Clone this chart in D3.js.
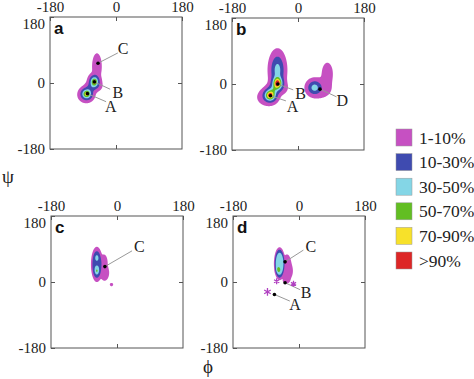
<!DOCTYPE html>
<html>
<head>
<meta charset="utf-8">
<script src="https://cdn.jsdelivr.net/npm/d3@7"></script>
<style>
  body { margin: 0; background: #fff; }
  text { font-family: "Liberation Serif", "Times New Roman", serif; }
</style>
</head>
<body>
<svg id="chart"></svg>
<script>
const svg = d3.select('#chart')

// dimensions
const width = 474;
const height = 379;
svg.attr('width', width).attr('height', height)

// data
const panelNames = ['a', 'b', 'c', 'd'];
const axisTicks = [-180, 0, 180];
const levelNames = ['1-10%', '10-30%', '30-50%', '50-70%', '70-90%', '>90%'];
const levelThresholds = [0.01, 0.1, 0.3, 0.5, 0.7, 0.9];
const levelColors = ['#c650c2', '#3f4bb0', '#84d6e6', '#62be22', '#f7e12a', '#dd2626'];

// density peaks:
// [phi, psi, spread phi, spread psi, height, edge sharpness]
const blobsA = [
  [-80, -30, 8, 8, 0.82, 2],
  [-59, 3, 7, 9, 0.8, 2],
  [-69, -13, 8, 8, 0.14, 2],
  [-52, 45, 7, 19, 0.06, 2],
  [-84, -34, 12, 11, 0.03, 2],
  [-50, -8, 8, 8, 0.03, 2]
];
const blobsB = [
  [-76, -31, 9, 9, 1.0, 2],
  [-56, 2, 8, 10, 1.0, 2],
  [-66, -15, 9, 9, 0.3, 2],
  [-56, 38, 10, 22, 0.4, 2],
  [-86, -36, 14, 12, 0.05, 2],
  [-45, -10, 10, 10, 0.04, 2],
  [45, -10, 10, 10, 0.4, 2],
  [62, -12, 17, 15, 0.04, 2],
  [80, 28, 9, 18, 0.04, 2]
];
const blobsC = [
  [-55, 48, 10, 30, 0.27, 4],
  [-55, 68, 4, 6, 0.13, 2],
  [-55, 30, 4, 7, 0.28, 2],
  [-34, 25, 7, 12, 0.05, 2],
  [-36, 55, 6, 12, 0.04, 2],
  [-15, -7, 2.5, 2.5, 0.05, 2]
];
const blobsD = [
  [-53, 50, 11, 32, 0.42, 6],
  [-56, 33, 4, 6, 0.18, 2],
  [-30, 30, 8, 14, 0.04, 2],
  [-33, 55, 6, 12, 0.04, 2],
  [-35, 5, 6, 6, 0.03, 2]
];

// labels: [name, dot phi, dot psi, line end phi, line end psi, text phi, text psi]
const labelsA = [
  ['C', -49, 54, 5, 82, 19, 95],
  ['B', -59, 3, -16, -17, 5, -25],
  ['A', -78, -29, -27, -51, -14, -65]
];
const labelsB = [
  ['A', -75, -32, -33, -46, -15, -61],
  ['B', -55, 0, -13, -16, 7, -26],
  ['D', 60, -14, 105, -35, 121, -44]
];
const labelsC = [
  ['C', -33, 42, 41, 85, 61, 98]
];
const labelsD = [
  ['C', -38, 55, 12, 87, 32, 96],
  ['B', -38, -2, 3, -21, 19, -29],
  ['A', -67, -34, -25, -52, -11, -61]
];
const starsD = [[-86, -27], [-61, 2], [-15, -5]];

const panelData = {
  a: {blobs: blobsA, labels: labelsA, stars: []},
  b: {blobs: blobsB, labels: labelsB, stars: []},
  c: {blobs: blobsC, labels: labelsC, stars: []},
  d: {blobs: blobsD, labels: labelsD, stars: starsD}
};

// panel boxes
const boxSize = 132;
const boxes = {
  a: {x: 50, y: 17},
  b: {x: 232, y: 18},
  c: {x: 51, y: 216},
  d: {x: 233, y: 216}
};

const x_scale = d3.scaleLinear().domain([-180, 180]).range([0, boxSize])
const y_scale = d3.scaleLinear().domain([-180, 180]).range([boxSize, 0])

// grid for contouring, 1 degree step
const n = 361;
function density(blobs) {
  const values = new Float64Array(n * n);
  for (let j = 0; j < n; j++) {
    const psi = 180 - j;
    for (let i = 0; i < n; i++) {
      const phi = -180 + i;
      let v = 0;
      blobs.forEach(b => {
        const dx = (phi - b[0]) / b[2];
        const dy = (psi - b[1]) / b[3];
        const r2 = dx * dx + dy * dy;
        v += b[4] * Math.exp(-0.5 * Math.pow(r2, b[5] / 2));
      })
      values[i + j * n] = v;
    }
  }
  return values;
}

const gridPath = d3.geoPath(d3.geoTransform({
  point: function(gx, gy) {
    this.stream.point(x_scale(-180 + gx - 0.5), y_scale(180 - gy + 0.5));
  }
}));

panelNames.forEach(name => {
  const box = boxes[name];
  const pd = panelData[name];
  const g = svg.append('g').attr('transform', `translate(${box.x},${box.y})`)

  g.append('clipPath').attr('id', 'clip-' + name)
    .append('rect').attr('width', boxSize).attr('height', boxSize)

  const contours = d3.contours().size([n, n]).thresholds(levelThresholds)(density(pd.blobs))

  g.append('g').attr('clip-path', `url(#clip-${name})`)
    .selectAll('path')
    .data(contours)
    .enter()
    .append('path')
    .attr('d', gridPath)
    .attr('fill', (d, i) => levelColors[i])

  // frame
  g.append('rect')
    .attr('width', boxSize).attr('height', boxSize)
    .attr('fill', 'none').attr('stroke', '#555').attr('stroke-width', 1)

  // axes
  const top = g.append('g').call(d3.axisTop(x_scale).tickValues(axisTicks).tickSize(-4).tickPadding(5).tickFormat(d => String(d)))
  const left = g.append('g').call(d3.axisLeft(y_scale).tickValues(axisTicks).tickSize(-4).tickPadding(5).tickFormat(d => String(d)))
  g.append('g').attr('transform', `translate(0,${boxSize})`)
    .call(d3.axisBottom(x_scale).tickValues([0]).tickSize(-4).tickFormat(''))
  g.append('g').attr('transform', `translate(${boxSize},0)`)
    .call(d3.axisRight(y_scale).tickValues([0]).tickSize(-4).tickFormat(''))

  g.selectAll('.domain').remove()
  g.selectAll('.tick line').attr('stroke', '#555')
  g.selectAll('.tick text')
    .attr('font-family', null)
    .style('font-family', '"Liberation Serif", "Times New Roman", serif')
    .style('font-size', '15px')
    .attr('fill', '#222')
  left.selectAll('.tick text').filter(d => d === 180).attr('dy', '0.75em')

  // panel letter
  g.append('text')
    .attr('x', 4).attr('y', 17)
    .style('font-family', '"Liberation Sans", Arial, sans-serif')
    .style('font-weight', 'bold').style('font-size', '17px')
    .attr('fill', '#111')
    .text(name)

  // labelled points
  g.selectAll('line.lead')
    .data(pd.labels)
    .enter()
    .append('line')
    .attr('x1', d => x_scale(d[1])).attr('y1', d => y_scale(d[2]))
    .attr('x2', d => x_scale(d[3])).attr('y2', d => y_scale(d[4]))
    .attr('stroke', '#999').attr('stroke-width', 1)

  g.selectAll('circle.dot')
    .data(pd.labels)
    .enter()
    .append('circle')
    .attr('cx', d => x_scale(d[1])).attr('cy', d => y_scale(d[2]))
    .attr('r', 1.8).attr('fill', '#000')

  g.selectAll('text.lab')
    .data(pd.labels)
    .enter()
    .append('text')
    .attr('x', d => x_scale(d[5])).attr('y', d => y_scale(d[6]))
    .attr('text-anchor', 'middle').attr('dy', '0.35em')
    .style('font-size', '16px').attr('fill', '#222')
    .text(d => d[0])

  g.selectAll('path.star')
    .data(pd.stars)
    .enter()
    .append('path')
    .attr('transform', d => `translate(${x_scale(d[0])},${y_scale(d[1])})`)
    .attr('d', (d, i) => d3.symbol(d3.symbolAsterisk, i === 0 ? 40 : 25)())
    .attr('stroke', '#b040c0').attr('stroke-width', 1.3).attr('fill', 'none')
})

// axis names
svg.append('text').attr('x', 8).attr('y', 183).attr('text-anchor', 'middle')
  .style('font-size', '19px').attr('fill', '#222').text('ψ')
svg.append('text').attr('x', 208).attr('y', 373).attr('text-anchor', 'middle')
  .style('font-size', '19px').attr('fill', '#222').text('ϕ')

// legend
const legend = svg.append('g').attr('transform', 'translate(396,129)')
const rows = legend.selectAll('g')
  .data(levelNames)
  .enter()
  .append('g')
  .attr('transform', (d, i) => `translate(0,${i * 24.6})`)

rows.append('rect')
  .attr('width', 16).attr('height', 17)
  .attr('fill', (d, i) => levelColors[i])
  .attr('stroke', '#999').attr('stroke-width', 0.5)

rows.append('text')
  .attr('x', 23).attr('y', 8.5).attr('dy', '0.35em')
  .style('font-size', '17.5px').attr('fill', '#222')
  .text(d => d)
</script>
</body>
</html>
